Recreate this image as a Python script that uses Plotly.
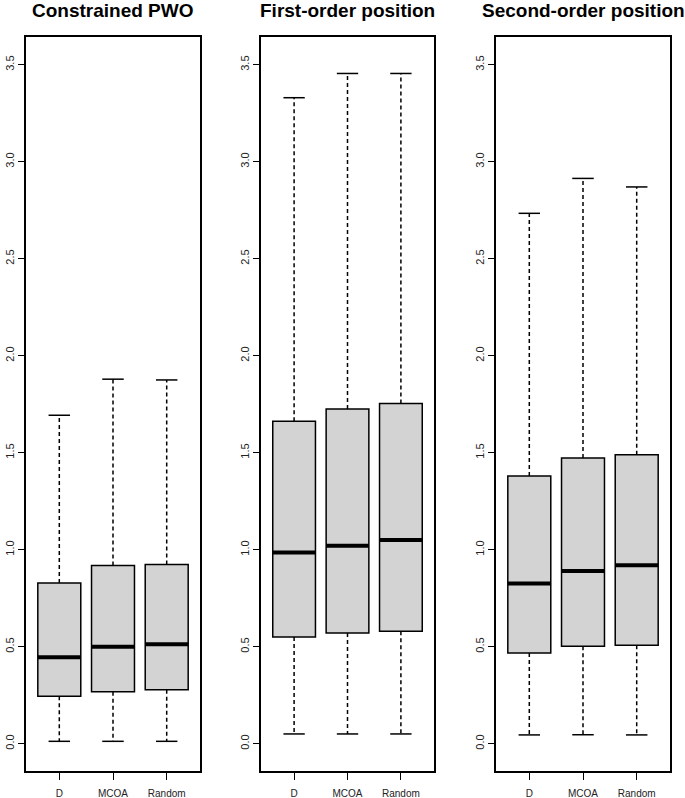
import plotly.graph_objects as go
from plotly.subplots import make_subplots

# three panels, boxplot summary stats
titles = ["Constrained PWO", "First-order position", "Second-order position"]
methods = ["D", "MCOA", "Random"]

lower = [[0.012, 0.012, 0.012],
         [0.05, 0.05, 0.05],
         [0.045, 0.046, 0.045]]
q1 = [[0.244, 0.268, 0.278],
      [0.55, 0.57, 0.58],
      [0.467, 0.502, 0.507]]
median = [[0.445, 0.50, 0.512],
          [0.985, 1.02, 1.05],
          [0.825, 0.89, 0.92]]
q3 = [[0.828, 0.918, 0.924],
      [1.662, 1.725, 1.753],
      [1.38, 1.472, 1.49]]
upper = [[1.693, 1.879, 1.875],
         [3.33, 3.455, 3.455],
         [2.734, 2.914, 2.87]]

W, H = 685, 798
xdoms = [(26, 200), (261, 434), (496, 670)]
ytop, ybot = 37, 771

fig = make_subplots(rows=1, cols=3)

for p in range(3):
    col = p + 1
    for i, m in enumerate(methods):
        xc = i + 1
        fig.add_trace(go.Box(
            x=[xc], q1=[q1[p][i]], median=[median[p][i]], q3=[q3[p][i]],
            lowerfence=[q1[p][i]], upperfence=[q3[p][i]],
            width=0.8, whiskerwidth=0,
            fillcolor="#d3d3d3", line=dict(color="black", width=1.5),
            boxpoints=False, hoverinfo="skip", showlegend=False,
        ), row=1, col=col)
        # dashed whiskers
        fig.add_trace(go.Scatter(
            x=[xc, xc, None, xc, xc],
            y=[q3[p][i], upper[p][i], None, q1[p][i], lower[p][i]],
            mode="lines", line=dict(color="black", width=1.5, dash="4px,3px"),
            hoverinfo="skip", showlegend=False,
        ), row=1, col=col)
        # staples
        fig.add_trace(go.Scatter(
            x=[xc - 0.2, xc + 0.2, None, xc - 0.2, xc + 0.2],
            y=[upper[p][i], upper[p][i], None, lower[p][i], lower[p][i]],
            mode="lines", line=dict(color="black", width=1.5),
            hoverinfo="skip", showlegend=False,
        ), row=1, col=col)
        # thick median
        fig.add_trace(go.Scatter(
            x=[xc - 0.4, xc + 0.4], y=[median[p][i], median[p][i]],
            mode="lines", line=dict(color="black", width=4),
            hoverinfo="skip", showlegend=False,
        ), row=1, col=col)

    axn = "" if p == 0 else str(col)
    x0, x1 = xdoms[p]
    fig.layout["xaxis" + axn].update(
        domain=[x0 / W, x1 / W], range=[0.38, 3.62], automargin=False,
        tickmode="array", tickvals=[1, 2, 3], ticktext=methods,
        ticks="outside", ticklen=7, tickwidth=1.3, tickcolor="black",
        showline=True, mirror=True, linecolor="black", linewidth=1.5,
        showgrid=False, zeroline=False, ticklabelstandoff=5,
        tickfont=dict(size=10, color="#222"),
    )
    fig.layout["yaxis" + axn].update(
        domain=[(H - ybot) / H, (H - ytop) / H], range=[-0.141, 3.643],
        automargin=False,
        tickmode="array", tickvals=[0, 0.5, 1, 1.5, 2, 2.5, 3, 3.5],
        ticktext=["0.0", "0.5", "1.0", "1.5", "2.0", "2.5", "3.0", "3.5"],
        tickangle=-90, ticks="outside", ticklen=6, tickwidth=1.3, tickcolor="black",
        showline=True, mirror=True, linecolor="black", linewidth=1.5,
        showgrid=False, zeroline=False,
        tickfont=dict(size=11, color="#222"),
    )
    fig.add_annotation(
        text="<b>" + titles[p] + "</b>", xref="paper", yref="paper",
        x=(x0 + x1) / 2 / W, y=(H - 10) / H, xanchor="center", yanchor="middle",
        showarrow=False, font=dict(size=19, color="black", family="Liberation Sans"),
    )

fig.update_layout(
    width=W, height=H, margin=dict(l=0, r=0, t=0, b=0),
    paper_bgcolor="white", plot_bgcolor="white",
    font=dict(family="Liberation Sans"), showlegend=False,
)

# drop the default page margin so the figure sits at the window's corner
fig.write_html("out.html", config=dict(displayModeBar=False),
               post_script="document.body.style.margin='0';")
